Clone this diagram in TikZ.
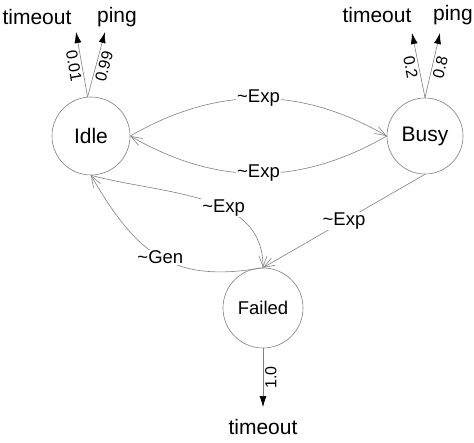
\documentclass[tikz,border=0pt]{standalone}
\usepackage{fontspec}
\setmainfont{Liberation Sans}
\usetikzlibrary{arrows.meta}

\begin{document}
\begin{tikzpicture}[x=1pt,y=-1pt,
    state/.style={circle,draw=gray,line width=0.6pt,minimum size=78pt,inner sep=0pt},
    big/.style={font=\fontsize{21}{25}\selectfont},
    tr/.style={draw=gray,line width=0.6pt,-{Straight Barb[length=11pt,width=8pt]}},
    exit/.style={draw=gray,line width=0.6pt,-{Latex[length=11pt,width=7pt,color=black]}},
    lbl/.style={fill=white,inner sep=1pt,font=\fontsize{18.5}{22}\selectfont},
    num/.style={inner sep=2pt,font=\fontsize{16}{19}\selectfont},
    prob/.style={num,sloped,below}]
  \useasboundingbox (0,0) rectangle (474,442);
  % states
  \node[state,big] (idle) at (91,136) {Idle};
  \node[state,big,minimum size=76pt] (busy) at (425,136) {Busy};
  \node[state,minimum size=80pt,font=\fontsize{18.5}{22}\selectfont] (failed) at (263,308) {Failed};
  % outcomes
  \node[big] (idleto) at (37,17) {timeout};
  \node[big] (idlepg) at (117,17) {ping};
  \node[big] (busyto) at (377,15) {timeout};
  \node[big] (busypg) at (453,15) {ping};
  \node[big] (failto) at (263,427) {timeout};
  \coordinate (a1) at (76,32);
  \coordinate (a2) at (105,32);
  \coordinate (a3) at (412,33);
  \coordinate (a4) at (440,33);
  \coordinate (a5) at (263,407);
  \draw[exit] (idle.95) -- node[prob] {0.01} (a1);
  \draw[exit] (idle.95) -- node[prob] {0.99} (a2);
  \draw[exit] (busy.north) -- node[prob] {0.2} (a3);
  \draw[exit] (busy.north) -- node[prob] {0.8} (a4);
  \draw[exit] (failed.south) -- node[num,rotate=90,anchor=north] {1.0} (a5);
  % transitions
  \draw[tr] (idle.east) to[bend left=30] node[lbl] {\textasciitilde Exp} (busy.west);
  \draw[tr] (busy.west) to[bend left=30] node[lbl] {\textasciitilde Exp} (idle.east);
  \draw[tr] (busy.south) -- node[lbl] {\textasciitilde Exp} (failed.north);
  \draw[tr] (idle.south) to[out=-15,in=90] node[lbl,pos=0.6] {\textasciitilde Exp} (failed.north);
  \draw[tr] (failed.north) to[out=190,in=-60,looseness=1.2] node[lbl] {\textasciitilde Gen} (idle.south);
\end{tikzpicture}
\end{document}
